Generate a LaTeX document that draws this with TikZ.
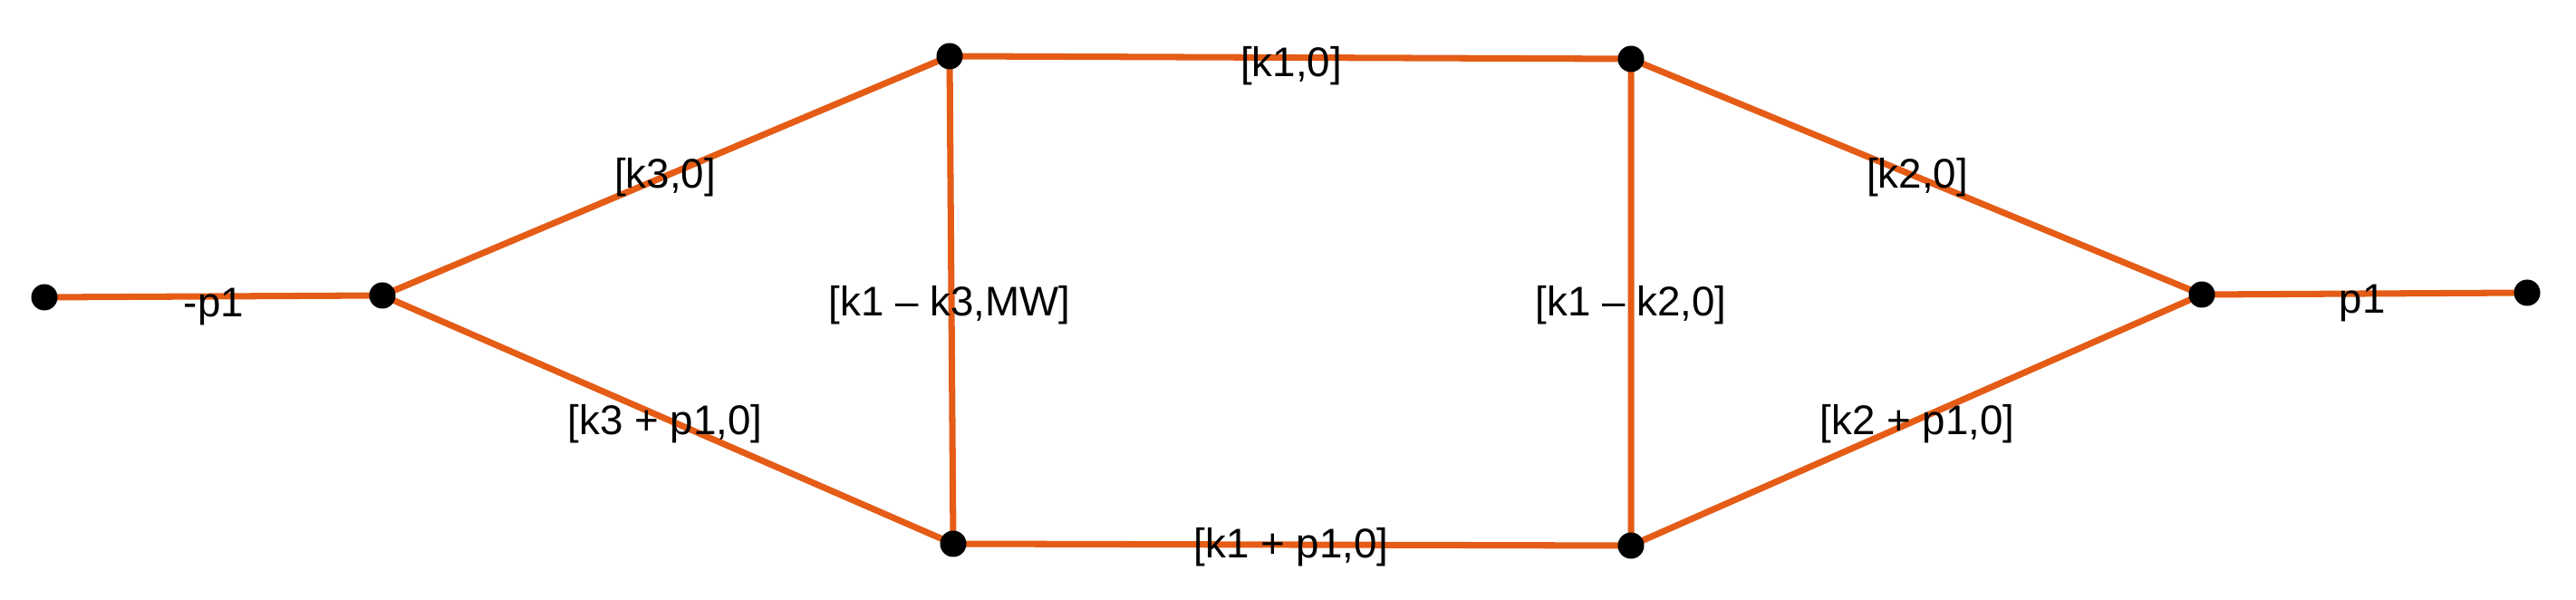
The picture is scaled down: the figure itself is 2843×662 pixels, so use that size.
\documentclass[tikz,border=0pt]{standalone}
\usepackage{fontspec}
\setmainfont{Liberation Sans}
\definecolor{edge}{RGB}{228,92,22}
\begin{document}
\begin{tikzpicture}[x=0.01cm,y=-0.01cm,
  vtx/.style={circle,fill=black,inner sep=0pt,minimum size=0.29cm},
  edg/.style={draw=edge,line width=2pt},
  lbl/.style={font=\fontsize{13pt}{15pt}\selectfont,inner sep=0pt}]
\useasboundingbox (0,0) rectangle (2843,662);
\coordinate (A) at (49,328); \coordinate (B) at (422,326);
\coordinate (C) at (1048,62); \coordinate (D) at (1800,65);
\coordinate (E) at (2430,325); \coordinate (F) at (2789,323);
\coordinate (G) at (1052,600); \coordinate (H) at (1800,602);
\draw[edg] (A)--(B) (B)--(C) (B)--(G) (C)--(D) (C)--(G) (D)--(H) (G)--(H) (D)--(E) (H)--(E) (E)--(F);
\foreach \n in {A,B,C,D,E,F,G,H} \node[vtx] (v\n) at (\n) {};
\node[lbl] (l1) at (236,339) {-p1};
\node[lbl] (l2) at (734,196) {[k3,0]};
\node[lbl] (l3) at (734,468) {[k3 + p1,0]};
\node[lbl] (l4) at (1048,337) {[k1 – k3,MW]};
\node[lbl] (l5) at (1425,73) {[k1,0]};
\node[lbl] (l6) at (1425,604) {[k1 + p1,0]};
\node[lbl] (l7) at (1800,337) {[k1 – k2,0]};
\node[lbl] (l8) at (2116,196) {[k2,0]};
\node[lbl] (l9) at (2116,468) {[k2 + p1,0]};
\node[lbl] (l10) at (2607,335) {p1};
\end{tikzpicture}
\end{document}
